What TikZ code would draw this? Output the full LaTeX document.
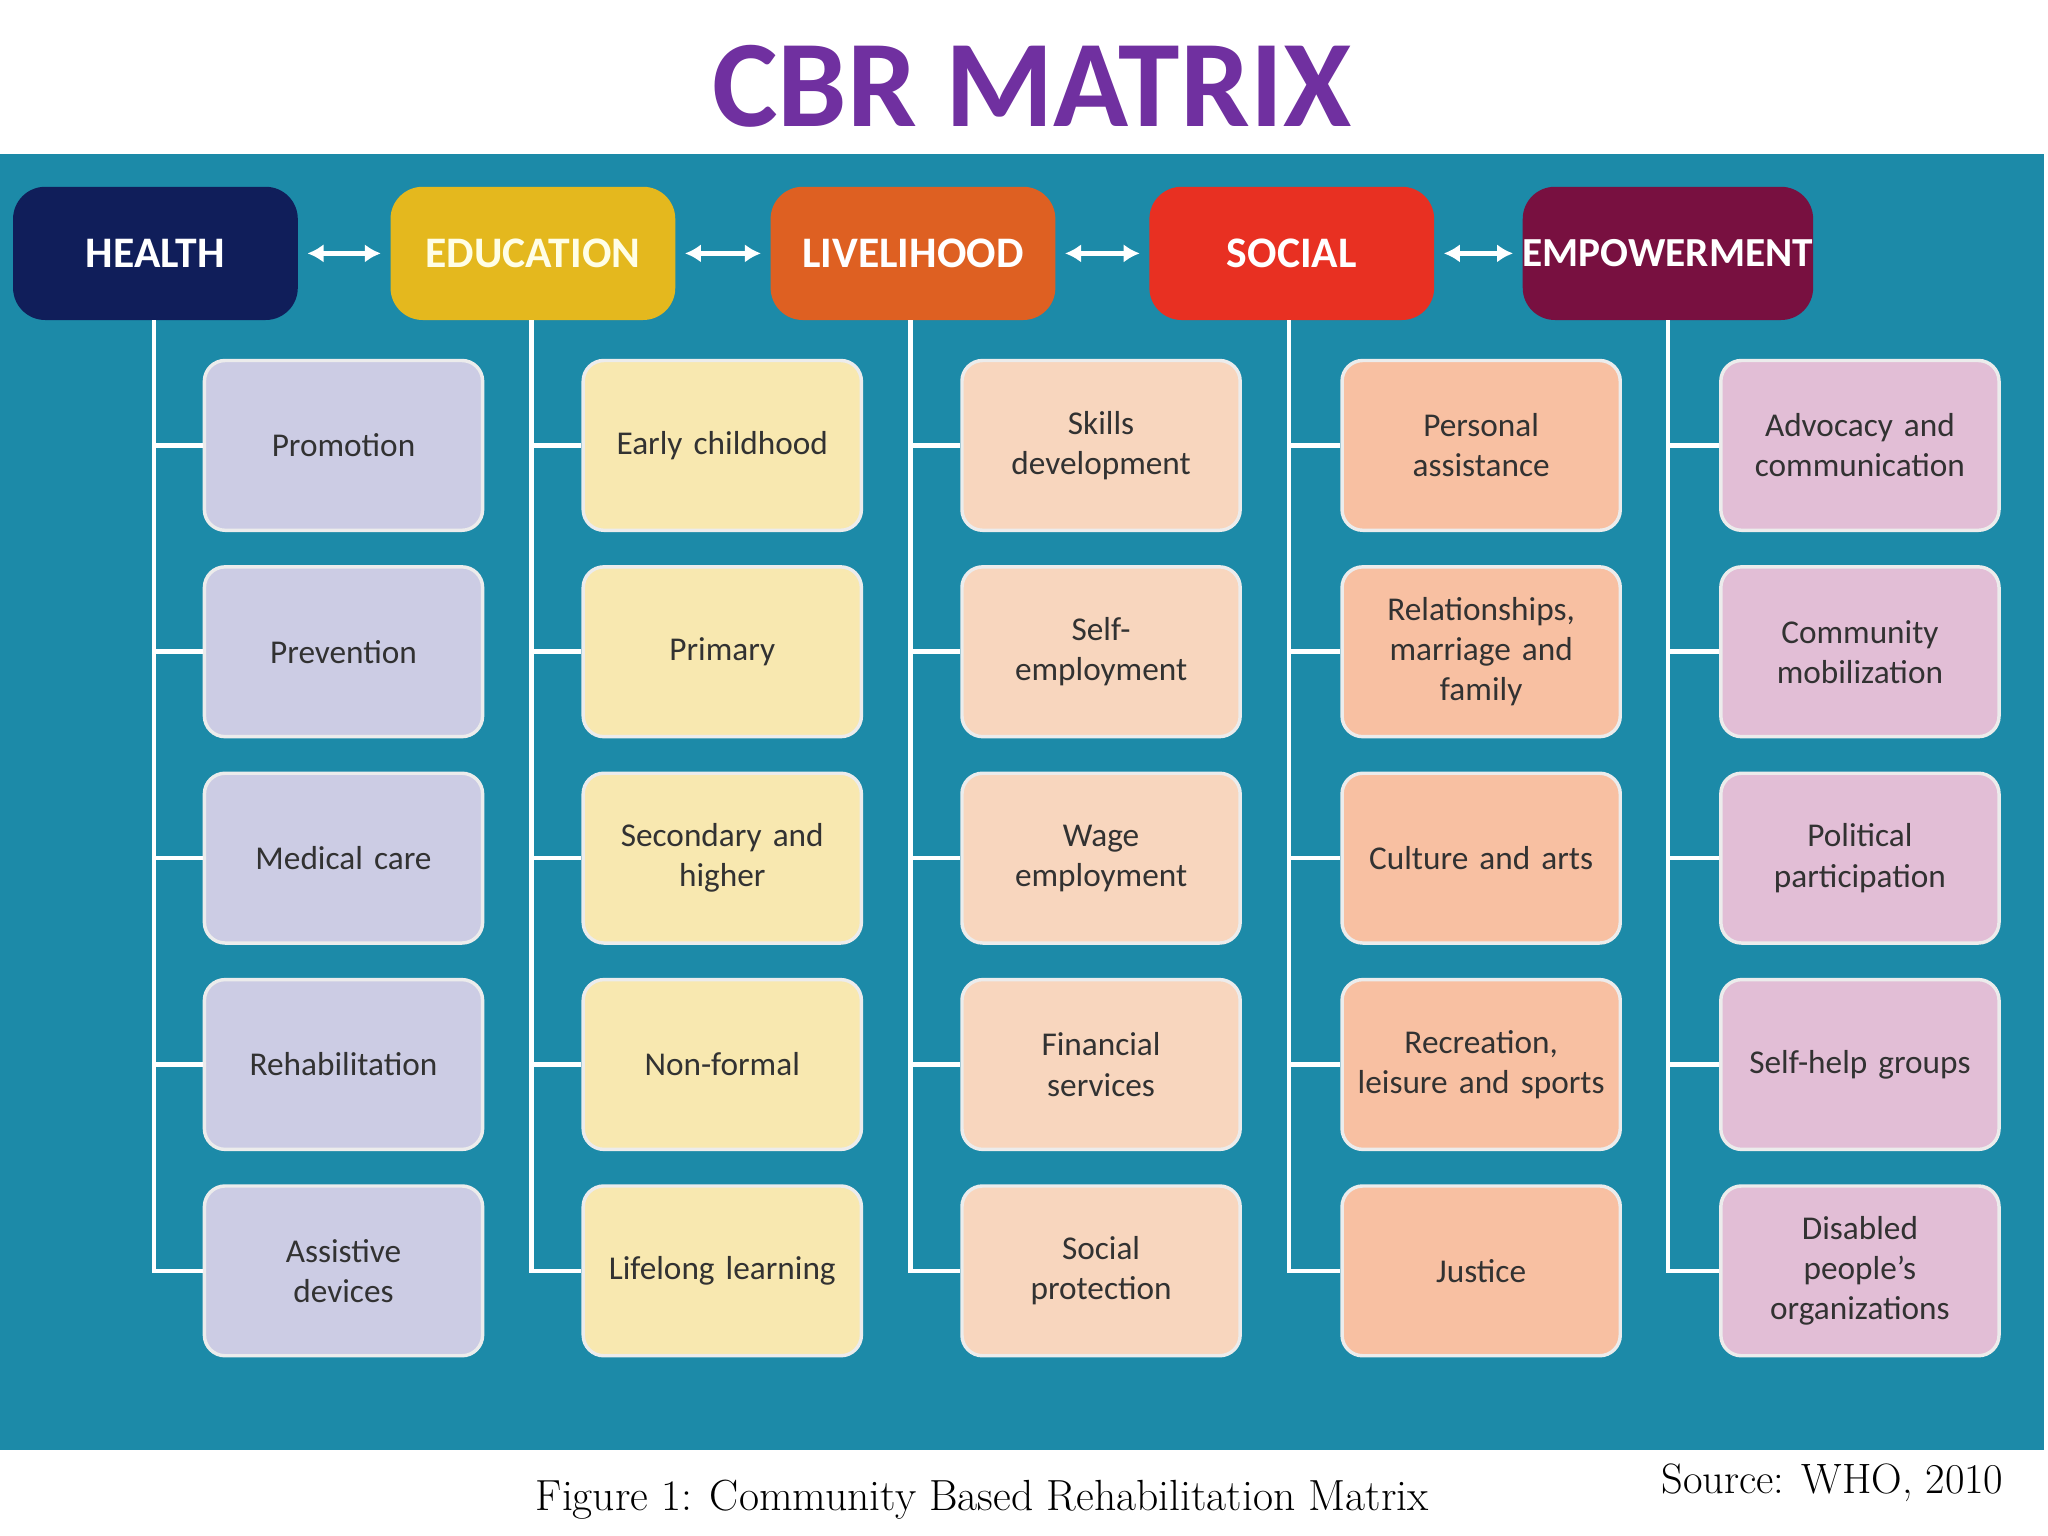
\documentclass[tikz,border=0pt]{standalone}
\usepackage{fontspec}
\setsansfont{Carlito}
\usetikzlibrary{arrows.meta}
\definecolor{bgteal}{RGB}{28,138,168}
\definecolor{titlep}{RGB}{112,48,160}
\definecolor{cH}{RGB}{16,30,90}
\definecolor{cE}{RGB}{228,184,30}
\definecolor{cL}{RGB}{222,96,34}
\definecolor{cS}{RGB}{232,48,34}
\definecolor{cP}{RGB}{120,16,64}
\definecolor{bH}{RGB}{204,204,228}
\definecolor{bE}{RGB}{248,232,176}
\definecolor{bL}{RGB}{248,214,190}
\definecolor{bS}{RGB}{248,192,162}
\definecolor{bP}{RGB}{226,190,214}
\definecolor{txt}{RGB}{50,50,50}
\tikzset{
 head/.style={rounded corners=14pt,minimum width=218*0.02cm,minimum height=102*0.02cm,font=\sffamily\bfseries\fontsize{19}{22}\selectfont,text=white,inner sep=0pt},
 item/.style={rounded corners=9pt,draw=white!85!gray,line width=1.5pt,minimum width=213*0.02cm,minimum height=130*0.02cm,font=\sffamily\fontsize{14.5}{17.5}\selectfont,text=txt,align=center,text width=205*0.02cm,inner sep=0pt},
 wline/.style={white,line width=2pt},
 darr/.style={white,line width=2.5pt,{Latex[length=7pt,width=8pt]}-{Latex[length=7pt,width=8pt]}}
}
\begin{document}
\begin{tikzpicture}[x=0.02cm,y=-0.02cm]
\useasboundingbox (0,0) rectangle (1568,1176);
\fill[white] (0,0) rectangle (1568,1176);
\node[font=\sffamily\bfseries\fontsize{54}{58}\selectfont,text=titlep] (title) at (790,66) {CBR MATRIX};
\fill[bgteal] (0,118) rectangle (1565,1110);
% headers
\node[head,fill=cH] (H) at (119,194) {HEALTH};
\node[head,fill=cE,text=white!90!yellow] (E) at (408,194) {EDUCATION};
\node[head,fill=cL] (L) at (699,194) {LIVELIHOOD};
\node[head,fill=cS] (S) at (989,194) {SOCIAL};
\node[head,fill=cP] (P) at (1277,194) {\fontsize{18}{22}\selectfont EMPOWERMENT};
\draw[darr] ([xshift=4pt]H.east) -- ([xshift=-4pt]E.west);
\draw[darr] ([xshift=4pt]E.east) -- ([xshift=-4pt]L.west);
\draw[darr] ([xshift=4pt]L.east) -- ([xshift=-4pt]S.west);
\draw[darr] ([xshift=4pt]S.east) -- ([xshift=-4pt]P.west);
% items
\foreach \t [count=\i] in {Promotion,Prevention,Medical care,Rehabilitation,Assistive\\devices}
 \node[item,fill=bH] (h\i) at (263,183+158*\i) {\t};
\foreach \t [count=\i] in {Early childhood,Primary,Secondary and\\higher,Non-formal,Lifelong learning}
 \node[item,fill=bE] (e\i) at (553,183+158*\i) {\t};
\foreach \t [count=\i] in {Skills\\development,Self-\\employment,Wage\\employment,Financial\\services,Social\\protection}
 \node[item,fill=bL] (l\i) at (843,183+158*\i) {\t};
\foreach \t [count=\i] in {Personal\\assistance,{Relationships,\\marriage and\\family},Culture and arts,{Recreation,\\leisure and sports},Justice}
 \node[item,fill=bS] (s\i) at (1134,183+158*\i) {\t};
\foreach \t [count=\i] in {Advocacy and\\communication,Community\\mobilization,Political\\participation,Self-help groups,Disabled\\people's\\organizations}
 \node[item,fill=bP] (p\i) at (1424,183+158*\i) {\t};
% tree lines
\foreach \hd/\it/\x in {H/h/118,E/e/407,L/l/697,S/s/987,P/p/1277}{
 \draw[wline] (\x,245) |- (\it5.west);
 \foreach \i in {1,...,4} \draw[wline] (\x,183+158*\i) -- (\it\i.west);
}
\node[font=\fontsize{19}{22}\selectfont] (cap) at (752,1148) {Figure 1: Community Based Rehabilitation Matrix};
\node[font=\fontsize{18.5}{22}\selectfont] (src) at (1403,1135) {Source: WHO, 2010};
\end{tikzpicture}
\end{document}
